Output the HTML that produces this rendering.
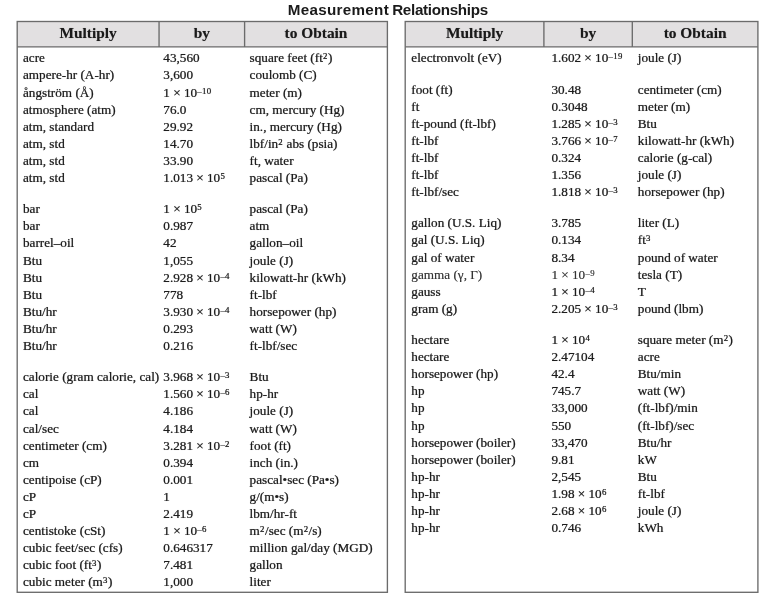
<!DOCTYPE html><html><head><meta charset="utf-8"><title>Measurement Relationships</title><style>
html,body{margin:0;padding:0;background:#fff;}
body{width:768px;height:603px;position:relative;overflow:hidden;font-family:"Liberation Serif",serif;color:#1c1c1c;}
.t{position:absolute;left:287.8px;top:2.0px;letter-spacing:0.24px;font-family:"Liberation Sans",sans-serif;font-weight:bold;font-size:15.2px;line-height:16px;color:#1a1a1a;white-space:nowrap;}

.h{position:absolute;top:22.7px;height:20px;line-height:20px;text-align:center;font-weight:bold;font-size:15.4px;text-shadow:0 0 0.8px rgba(0,0,0,.45);color:#1a1a1a;white-space:nowrap;}
.c{position:absolute;white-space:nowrap;-webkit-text-stroke:0.15px #222;text-shadow:0 0 0.7px rgba(0,0,0,.4);font-size:13.2px;line-height:17px;height:17px;}
.c sup{font-size:8.8px;vertical-align:baseline;position:relative;top:-3.0px;line-height:0;margin:0 0.2px 0 0.2px;letter-spacing:0.35px;}
.g{color:#353535;-webkit-text-stroke:0.08px #353535;text-shadow:0 0 0.6px rgba(0,0,0,.3);}
.fr{position:absolute;left:0;top:0;}
</style></head><body>
<div class="t"><span style="letter-spacing:0.3px">Measurement</span> <span style="letter-spacing:-0.3px;margin-left:-1.3px">Relationships</span></div>
<svg class="fr" width="768" height="603" viewBox="0 0 768 603"><rect x="17.20" y="21.50" width="370.20" height="25.40" fill="#e2e0e1"/><g fill="none" stroke="#6b6b6b" stroke-width="1.35"><rect x="17.20" y="21.50" width="370.20" height="570.80"/><path d="M17.20 46.90H387.40 M159.05 21.50V46.90 M244.60 21.50V46.90"/></g><rect x="405.20" y="21.50" width="352.70" height="25.40" fill="#e2e0e1"/><g fill="none" stroke="#6b6b6b" stroke-width="1.35"><rect x="405.20" y="21.50" width="352.70" height="570.80"/><path d="M405.20 46.90H757.90 M543.90 21.50V46.90 M632.30 21.50V46.90"/></g></svg>
<div class="h" style="left:17.20px;width:141.85px">Multiply</div>
<div class="h" style="left:159.05px;width:85.55px">by</div>
<div class="h" style="left:244.60px;width:142.80px">to Obtain</div>
<div class="h" style="left:405.20px;width:138.70px">Multiply</div>
<div class="h" style="left:543.90px;width:88.40px">by</div>
<div class="h" style="left:632.30px;width:125.60px">to Obtain</div>
<div class="c" style="left:23.00px;top:49.37px">acre</div>
<div class="c" style="left:163.30px;top:49.37px">43,560</div>
<div class="c" style="left:249.60px;top:49.37px">square feet (ft<sup>2</sup>)</div>
<div class="c" style="left:23.00px;top:66.47px">ampere-hr (A-hr)</div>
<div class="c" style="left:163.30px;top:66.47px">3,600</div>
<div class="c" style="left:249.60px;top:66.47px">coulomb (C)</div>
<div class="c" style="left:23.00px;top:83.57px">ångström (Å)</div>
<div class="c" style="left:163.30px;top:83.57px">1 × 10<sup>–10</sup></div>
<div class="c" style="left:249.60px;top:83.57px">meter (m)</div>
<div class="c" style="left:23.00px;top:100.67px">atmosphere (atm)</div>
<div class="c" style="left:163.30px;top:100.67px">76.0</div>
<div class="c" style="left:249.60px;top:100.67px">cm, mercury (Hg)</div>
<div class="c" style="left:23.00px;top:117.77px">atm, standard</div>
<div class="c" style="left:163.30px;top:117.77px">29.92</div>
<div class="c" style="left:249.60px;top:117.77px">in., mercury (Hg)</div>
<div class="c" style="left:23.00px;top:134.87px">atm, std</div>
<div class="c" style="left:163.30px;top:134.87px">14.70</div>
<div class="c" style="left:249.60px;top:134.87px">lbf/in<sup>2</sup> abs (psia)</div>
<div class="c" style="left:23.00px;top:151.96px">atm, std</div>
<div class="c" style="left:163.30px;top:151.96px">33.90</div>
<div class="c" style="left:249.60px;top:151.96px">ft, water</div>
<div class="c" style="left:23.00px;top:169.06px">atm, std</div>
<div class="c" style="left:163.30px;top:169.06px">1.013 × 10<sup>5</sup></div>
<div class="c" style="left:249.60px;top:169.06px">pascal (Pa)</div>
<div class="c" style="left:23.00px;top:200.26px">bar</div>
<div class="c" style="left:163.30px;top:200.26px">1 × 10<sup>5</sup></div>
<div class="c" style="left:249.60px;top:200.26px">pascal (Pa)</div>
<div class="c" style="left:23.00px;top:217.36px">bar</div>
<div class="c" style="left:163.30px;top:217.36px">0.987</div>
<div class="c" style="left:249.60px;top:217.36px">atm</div>
<div class="c" style="left:23.00px;top:234.46px">barrel–oil</div>
<div class="c" style="left:163.30px;top:234.46px">42</div>
<div class="c" style="left:249.60px;top:234.46px">gallon–oil</div>
<div class="c" style="left:23.00px;top:251.56px">Btu</div>
<div class="c" style="left:163.30px;top:251.56px">1,055</div>
<div class="c" style="left:249.60px;top:251.56px">joule (J)</div>
<div class="c" style="left:23.00px;top:268.67px">Btu</div>
<div class="c" style="left:163.30px;top:268.67px">2.928 × 10<sup>–4</sup></div>
<div class="c" style="left:249.60px;top:268.67px">kilowatt-hr (kWh)</div>
<div class="c" style="left:23.00px;top:285.77px">Btu</div>
<div class="c" style="left:163.30px;top:285.77px">778</div>
<div class="c" style="left:249.60px;top:285.77px">ft-lbf</div>
<div class="c" style="left:23.00px;top:302.87px">Btu/hr</div>
<div class="c" style="left:163.30px;top:302.87px">3.930 × 10<sup>–4</sup></div>
<div class="c" style="left:249.60px;top:302.87px">horsepower (hp)</div>
<div class="c" style="left:23.00px;top:319.97px">Btu/hr</div>
<div class="c" style="left:163.30px;top:319.97px">0.293</div>
<div class="c" style="left:249.60px;top:319.97px">watt (W)</div>
<div class="c" style="left:23.00px;top:337.07px">Btu/hr</div>
<div class="c" style="left:163.30px;top:337.07px">0.216</div>
<div class="c" style="left:249.60px;top:337.07px">ft-lbf/sec</div>
<div class="c" style="left:23.00px;top:368.27px">calorie (gram calorie, cal)</div>
<div class="c" style="left:163.30px;top:368.27px">3.968 × 10<sup>–3</sup></div>
<div class="c" style="left:249.60px;top:368.27px">Btu</div>
<div class="c" style="left:23.00px;top:385.37px">cal</div>
<div class="c" style="left:163.30px;top:385.37px">1.560 × 10<sup>–6</sup></div>
<div class="c" style="left:249.60px;top:385.37px">hp-hr</div>
<div class="c" style="left:23.00px;top:402.47px">cal</div>
<div class="c" style="left:163.30px;top:402.47px">4.186</div>
<div class="c" style="left:249.60px;top:402.47px">joule (J)</div>
<div class="c" style="left:23.00px;top:419.57px">cal/sec</div>
<div class="c" style="left:163.30px;top:419.57px">4.184</div>
<div class="c" style="left:249.60px;top:419.57px">watt (W)</div>
<div class="c" style="left:23.00px;top:436.67px">centimeter (cm)</div>
<div class="c" style="left:163.30px;top:436.67px">3.281 × 10<sup>–2</sup></div>
<div class="c" style="left:249.60px;top:436.67px">foot (ft)</div>
<div class="c" style="left:23.00px;top:453.77px">cm</div>
<div class="c" style="left:163.30px;top:453.77px">0.394</div>
<div class="c" style="left:249.60px;top:453.77px">inch (in.)</div>
<div class="c" style="left:23.00px;top:470.87px">centipoise (cP)</div>
<div class="c" style="left:163.30px;top:470.87px">0.001</div>
<div class="c" style="left:249.60px;top:470.87px">pascal•sec (Pa•s)</div>
<div class="c" style="left:23.00px;top:487.97px">cP</div>
<div class="c" style="left:163.30px;top:487.97px">1</div>
<div class="c" style="left:249.60px;top:487.97px">g/(m•s)</div>
<div class="c" style="left:23.00px;top:505.07px">cP</div>
<div class="c" style="left:163.30px;top:505.07px">2.419</div>
<div class="c" style="left:249.60px;top:505.07px">lbm/hr-ft</div>
<div class="c" style="left:23.00px;top:522.17px">centistoke (cSt)</div>
<div class="c" style="left:163.30px;top:522.17px">1 × 10<sup>–6</sup></div>
<div class="c" style="left:249.60px;top:522.17px">m<sup>2</sup>/sec (m<sup>2</sup>/s)</div>
<div class="c" style="left:23.00px;top:539.27px">cubic feet/sec (cfs)</div>
<div class="c" style="left:163.30px;top:539.27px">0.646317</div>
<div class="c" style="left:249.60px;top:539.27px">million gal/day (MGD)</div>
<div class="c" style="left:23.00px;top:556.37px">cubic foot (ft<sup>3</sup>)</div>
<div class="c" style="left:163.30px;top:556.37px">7.481</div>
<div class="c" style="left:249.60px;top:556.37px">gallon</div>
<div class="c" style="left:23.00px;top:573.47px">cubic meter (m<sup>3</sup>)</div>
<div class="c" style="left:163.30px;top:573.47px">1,000</div>
<div class="c" style="left:249.60px;top:573.47px">liter</div>
<div class="c" style="left:411.30px;top:49.37px">electronvolt (eV)</div>
<div class="c" style="left:551.40px;top:49.37px">1.602 × 10<sup>–19</sup></div>
<div class="c" style="left:637.80px;top:49.37px">joule (J)</div>
<div class="c" style="left:411.30px;top:80.56px">foot (ft)</div>
<div class="c" style="left:551.40px;top:80.56px">30.48</div>
<div class="c" style="left:637.80px;top:80.56px">centimeter (cm)</div>
<div class="c" style="left:411.30px;top:97.67px">ft</div>
<div class="c" style="left:551.40px;top:97.67px">0.3048</div>
<div class="c" style="left:637.80px;top:97.67px">meter (m)</div>
<div class="c" style="left:411.30px;top:114.77px">ft-pound (ft-lbf)</div>
<div class="c" style="left:551.40px;top:114.77px">1.285 × 10<sup>–3</sup></div>
<div class="c" style="left:637.80px;top:114.77px">Btu</div>
<div class="c" style="left:411.30px;top:131.87px">ft-lbf</div>
<div class="c" style="left:551.40px;top:131.87px">3.766 × 10<sup>–7</sup></div>
<div class="c" style="left:637.80px;top:131.87px">kilowatt-hr (kWh)</div>
<div class="c" style="left:411.30px;top:148.96px">ft-lbf</div>
<div class="c" style="left:551.40px;top:148.96px">0.324</div>
<div class="c" style="left:637.80px;top:148.96px">calorie (g-cal)</div>
<div class="c" style="left:411.30px;top:166.06px">ft-lbf</div>
<div class="c" style="left:551.40px;top:166.06px">1.356</div>
<div class="c" style="left:637.80px;top:166.06px">joule (J)</div>
<div class="c" style="left:411.30px;top:183.16px">ft-lbf/sec</div>
<div class="c" style="left:551.40px;top:183.16px">1.818 × 10<sup>–3</sup></div>
<div class="c" style="left:637.80px;top:183.16px">horsepower (hp)</div>
<div class="c" style="left:411.30px;top:214.36px">gallon (U.S. Liq)</div>
<div class="c" style="left:551.40px;top:214.36px">3.785</div>
<div class="c" style="left:637.80px;top:214.36px">liter (L)</div>
<div class="c" style="left:411.30px;top:231.46px">gal (U.S. Liq)</div>
<div class="c" style="left:551.40px;top:231.46px">0.134</div>
<div class="c" style="left:637.80px;top:231.46px">ft<sup>3</sup></div>
<div class="c" style="left:411.30px;top:248.56px">gal of water</div>
<div class="c" style="left:551.40px;top:248.56px">8.34</div>
<div class="c" style="left:637.80px;top:248.56px">pound of water</div>
<div class="c" style="left:411.30px;top:265.67px"><span class="g">gamma (γ, Γ)</span></div>
<div class="c" style="left:551.40px;top:265.67px"><span class="g">1 × 10<sup>–9</sup></span></div>
<div class="c" style="left:637.80px;top:265.67px">tesla (T)</div>
<div class="c" style="left:411.30px;top:282.77px">gauss</div>
<div class="c" style="left:551.40px;top:282.77px">1 × 10<sup>–4</sup></div>
<div class="c" style="left:637.80px;top:282.77px">T</div>
<div class="c" style="left:411.30px;top:299.87px">gram (g)</div>
<div class="c" style="left:551.40px;top:299.87px">2.205 × 10<sup>–3</sup></div>
<div class="c" style="left:637.80px;top:299.87px">pound (lbm)</div>
<div class="c" style="left:411.30px;top:331.07px">hectare</div>
<div class="c" style="left:551.40px;top:331.07px">1 × 10<sup>4</sup></div>
<div class="c" style="left:637.80px;top:331.07px">square meter (m<sup>2</sup>)</div>
<div class="c" style="left:411.30px;top:348.17px">hectare</div>
<div class="c" style="left:551.40px;top:348.17px">2.47104</div>
<div class="c" style="left:637.80px;top:348.17px">acre</div>
<div class="c" style="left:411.30px;top:365.27px">horsepower (hp)</div>
<div class="c" style="left:551.40px;top:365.27px">42.4</div>
<div class="c" style="left:637.80px;top:365.27px">Btu/min</div>
<div class="c" style="left:411.30px;top:382.37px">hp</div>
<div class="c" style="left:551.40px;top:382.37px">745.7</div>
<div class="c" style="left:637.80px;top:382.37px">watt (W)</div>
<div class="c" style="left:411.30px;top:399.47px">hp</div>
<div class="c" style="left:551.40px;top:399.47px">33,000</div>
<div class="c" style="left:637.80px;top:399.47px">(ft-lbf)/min</div>
<div class="c" style="left:411.30px;top:416.57px">hp</div>
<div class="c" style="left:551.40px;top:416.57px">550</div>
<div class="c" style="left:637.80px;top:416.57px">(ft-lbf)/sec</div>
<div class="c" style="left:411.30px;top:433.67px">horsepower (boiler)</div>
<div class="c" style="left:551.40px;top:433.67px">33,470</div>
<div class="c" style="left:637.80px;top:433.67px">Btu/hr</div>
<div class="c" style="left:411.30px;top:450.77px">horsepower (boiler)</div>
<div class="c" style="left:551.40px;top:450.77px">9.81</div>
<div class="c" style="left:637.80px;top:450.77px">kW</div>
<div class="c" style="left:411.30px;top:467.87px">hp-hr</div>
<div class="c" style="left:551.40px;top:467.87px">2,545</div>
<div class="c" style="left:637.80px;top:467.87px">Btu</div>
<div class="c" style="left:411.30px;top:484.97px">hp-hr</div>
<div class="c" style="left:551.40px;top:484.97px">1.98 × 10<sup>6</sup></div>
<div class="c" style="left:637.80px;top:484.97px">ft-lbf</div>
<div class="c" style="left:411.30px;top:502.07px">hp-hr</div>
<div class="c" style="left:551.40px;top:502.07px">2.68 × 10<sup>6</sup></div>
<div class="c" style="left:637.80px;top:502.07px">joule (J)</div>
<div class="c" style="left:411.30px;top:519.17px">hp-hr</div>
<div class="c" style="left:551.40px;top:519.17px">0.746</div>
<div class="c" style="left:637.80px;top:519.17px">kWh</div>
</body></html>
